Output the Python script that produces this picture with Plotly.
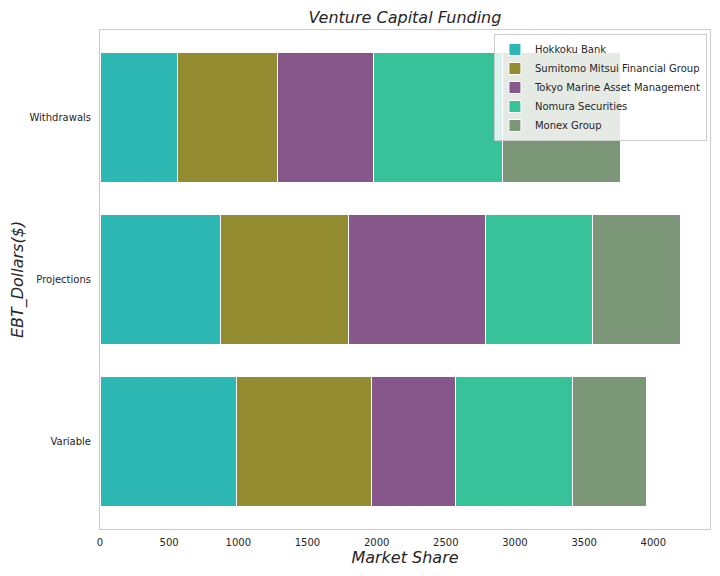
import plotly.graph_objects as go

# categories bottom -> top
categories = ['Variable', 'Projections', 'Withdrawals']

hokkoku = [984, 868, 557]
sumitomo = [976, 926, 723]
tokyo_marine = [608, 991, 695]
nomura = [846, 774, 933]
monex = [535, 636, 853]

series = [
    ('Hokkoku Bank', hokkoku, '#2eb8b3'),
    ('Sumitomo Mitsui Financial Group', sumitomo, '#938b30'),
    ('Tokyo Marine Asset Management', tokyo_marine, '#87568b'),
    ('Nomura Securities', nomura, '#38c29a'),
    ('Monex Group', monex, '#7c9777'),
]

fig = go.Figure()
for name, vals, col in series:
    fig.add_trace(go.Bar(
        y=categories, x=vals, name=name, orientation='h',
        marker=dict(color=col, line=dict(color='white', width=1)),
        width=0.8,
    ))

# page body has an 8px margin, so the figure is a bit smaller than the window
fig.update_layout(
    barmode='stack',
    width=712, height=568,
    margin=dict(l=92, r=10, t=22, b=47, autoexpand=False),
    plot_bgcolor='white', paper_bgcolor='white',
    font=dict(family='DejaVu Sans', size=10, color='#262626'),
    title=dict(text='<i>Venture Capital Funding</i>', x=0.5576, xanchor='center',
               y=0.984, yanchor='middle', font=dict(size=16, color='#262626')),
    legend=dict(x=0.995, xanchor='right', y=0.992, yanchor='top',
                bgcolor='rgba(255,255,255,0.8)', bordercolor='#cccccc', borderwidth=1,
                font=dict(size=10), tracegroupgap=0, traceorder='normal',
                itemwidth=30),
    xaxis=dict(range=[0, 4410], tickvals=[0, 500, 1000, 1500, 2000, 2500, 3000, 3500, 4000],
               showgrid=False, zeroline=False, showline=True, mirror=True, automargin=False,
               linecolor='#cccccc', linewidth=1, ticks='', ticklabelstandoff=4,
               title=dict(text='<i>Market Share</i>', font=dict(size=16), standoff=0)),
    yaxis=dict(range=[-0.54, 2.54], showgrid=False, zeroline=False, showline=True, mirror=True,
               automargin=False,
               linecolor='#cccccc', linewidth=1, ticks='', ticklabelstandoff=6,
               title=dict(text='<i>EBT_Dollars($)</i>', font=dict(size=16), standoff=9)),
)

fig.write_html('out.html')
